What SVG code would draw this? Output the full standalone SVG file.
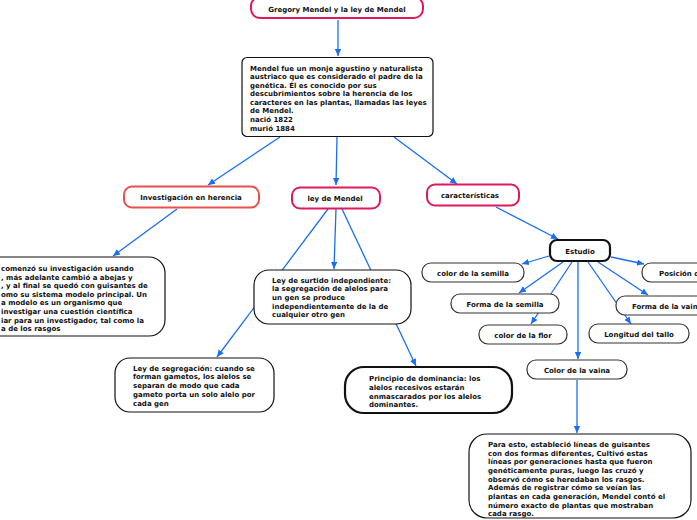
<svg xmlns="http://www.w3.org/2000/svg" width="697" height="520" viewBox="0 0 697 520">
<style>
text{font-family:"DejaVu Sans","Verdana",sans-serif;font-weight:bold;font-size:7px;fill:#111}
.c{text-anchor:middle}
.red{fill:#fff;stroke:#e0195a;stroke-width:2}
.ora{fill:#fff;stroke:#e8504a;stroke-width:2}
.blk{fill:#fff;stroke:#111;stroke-width:1.2}
.thk{fill:#fff;stroke:#111;stroke-width:2.2}
.gry{fill:#fff;stroke:#333;stroke-width:1.2}
.e{stroke:#1a6ef5;stroke-width:1.3;fill:none;marker-end:url(#ah)}
</style>
<defs>
<marker id="ah" markerUnits="userSpaceOnUse" markerWidth="8" markerHeight="8" refX="7" refY="4" orient="auto">
<path d="M0,0.8 L7,4 L0,7.2 Z" fill="#1a6ef5"/>
</marker>
</defs>
<g id="connectors">
<line class="e" x1="338" y1="20" x2="338" y2="56"/>
<line class="e" x1="280" y1="137" x2="208" y2="185"/>
<line class="e" x1="337" y1="137" x2="336" y2="185"/>
<line class="e" x1="394" y1="137" x2="457" y2="184"/>
<line class="e" x1="177" y1="209" x2="113" y2="256"/>
<line class="e" x1="328" y1="209" x2="217" y2="357"/>
<line class="e" x1="336" y1="209" x2="334" y2="269"/>
<line class="e" x1="342" y1="209" x2="416" y2="366"/>
<line class="e" x1="496" y1="207" x2="558" y2="239"/>
<line class="e" x1="549" y1="256" x2="522" y2="264"/>
<line class="e" x1="563" y1="262" x2="519" y2="293"/>
<line class="e" x1="572" y1="262" x2="531" y2="324"/>
<line class="e" x1="578" y1="262" x2="578" y2="359"/>
<line class="e" x1="588" y1="262" x2="631" y2="324"/>
<line class="e" x1="598" y1="262" x2="648" y2="295"/>
<line class="e" x1="611" y1="257" x2="644" y2="264"/>
<line class="e" x1="577" y1="380" x2="577" y2="433"/>
</g>
<g id="n-title">
<rect class="red" x="251" y="-3" width="172" height="21" rx="9"/>
<text class="c" x="337" y="11.5">Gregory Mendel y la ley de Mendel</text>
</g>
<g id="n-main">
<rect class="blk" x="242" y="57.5" width="191" height="79" rx="5"/>
<text x="250" y="70.5">Mendel fue un monje agustino y naturalista</text>
<text x="250" y="79">austriaco que es considerado el padre de la</text>
<text x="250" y="87.6">genética. Él es conocido por sus</text>
<text x="250" y="96.2">descubrimientos sobre la herencia de los</text>
<text x="250" y="104.8">caracteres en las plantas, llamadas las leyes</text>
<text x="250" y="113.4">de Mendel.</text>
<text x="250" y="122">nació 1822</text>
<text x="250" y="130.6">murió 1884</text>
</g>
<g id="n-investigacion">
<rect class="ora" x="124" y="186.5" width="135" height="21" rx="8"/>
<text class="c" x="191" y="199.5">Investigación en herencia</text>
</g>
<g id="n-ley">
<rect class="red" x="292" y="187.5" width="88" height="21" rx="8"/>
<text class="c" x="335" y="201">ley de Mendel</text>
</g>
<g id="n-caracteristicas">
<rect class="red" x="427" y="184.5" width="92" height="21" rx="8"/>
<text class="c" x="470" y="197.5">características</text>
</g>
<g id="n-comenzo">
<rect class="blk" x="-30" y="257" width="195" height="79" rx="16"/>
<text x="1" y="271">comenzó su investigación usando</text>
<text x="1" y="279.6">, más adelante cambió a abejas y</text>
<text x="1" y="288.2">, y al final se quedó con guisantes de</text>
<text x="1" y="296.8">omo su sistema modelo principal. Un</text>
<text x="1" y="305.4">a modelo es un organismo que</text>
<text x="1" y="314">investigar una cuestión científica</text>
<text x="1" y="322.6">iar para un investigador, tal como la</text>
<text x="1" y="331.2">a de los rasgos</text>
</g>
<g id="n-surtido">
<rect class="blk" x="254" y="270" width="157" height="54" rx="15"/>
<text x="272" y="282.5">Ley de surtido independiente:</text>
<text x="272" y="291.2">la segregación de alelos para</text>
<text x="272" y="299.9">un gen se produce</text>
<text x="272" y="308.6">independientemente de la de</text>
<text x="272" y="317.3">cualquier otro gen</text>
</g>
<g id="n-segregacion">
<rect class="blk" x="115" y="358" width="159" height="54" rx="15"/>
<text x="133" y="370.7">Ley de segregación: cuando se</text>
<text x="133" y="379.4">forman gametos, los alelos se</text>
<text x="133" y="388.1">separan de modo que cada</text>
<text x="133" y="396.8">gameto porta un solo alelo por</text>
<text x="133" y="405.5">cada gen</text>
</g>
<g id="n-dominancia">
<rect class="thk" x="345" y="367" width="167" height="46" rx="19"/>
<text x="369" y="381.3">Principio de dominancia: los</text>
<text x="369" y="390">alelos recesivos estarán</text>
<text x="369" y="398.7">enmascarados por los alelos</text>
<text x="369" y="407.4">dominantes.</text>
</g>
<g id="n-estudio">
<rect class="thk" x="550" y="240" width="60" height="21" rx="7"/>
<text class="c" x="580" y="253.5">Estudio</text>
</g>
<g id="n-color-semilla">
<rect class="gry" x="422" y="263" width="102" height="19" rx="9"/>
<text class="c" x="473" y="275.5">color de la semilla</text>
</g>
<g id="n-posicion">
<rect class="gry" x="642" y="263" width="70" height="19" rx="9"/>
<text x="659" y="275.5">Posición d</text>
</g>
<g id="n-forma-semilla">
<rect class="gry" x="451" y="294" width="108" height="19" rx="9"/>
<text class="c" x="505" y="306.5">Forma de la semilla</text>
</g>
<g id="n-forma-vaina">
<rect class="gry" x="616" y="296" width="95" height="19" rx="9"/>
<text x="632" y="308.5">Forma de la vaina</text>
</g>
<g id="n-color-flor">
<rect class="gry" x="479" y="325" width="88" height="19" rx="9"/>
<text class="c" x="523" y="337.5">color de la flor</text>
</g>
<g id="n-longitud">
<rect class="gry" x="589" y="324" width="100" height="19" rx="9"/>
<text class="c" x="639" y="336.5">Longitud del tallo</text>
</g>
<g id="n-color-vaina">
<rect class="gry" x="527" y="360" width="100" height="19" rx="9"/>
<text class="c" x="577" y="372.5">Color de la vaina</text>
</g>
<g id="n-para-esto">
<rect class="blk" x="469" y="434" width="222" height="84" rx="18"/>
<text x="488" y="446.8">Para esto,  estableció líneas de guisantes</text>
<text x="488" y="455.5">con dos formas diferentes, Cultivó estas</text>
<text x="488" y="464.2">líneas por generaciones hasta que fueron</text>
<text x="488" y="472.9">genéticamente puras, luego las cruzó y</text>
<text x="488" y="481.6">observó cómo se heredaban los rasgos.</text>
<text x="488" y="490.3">Además de registrar cómo se veían las</text>
<text x="488" y="499">plantas en cada generación, Mendel contó el</text>
<text x="488" y="507.7">número exacto de plantas que mostraban</text>
<text x="488" y="516.4">cada rasgo.</text>
</g>
</svg>
